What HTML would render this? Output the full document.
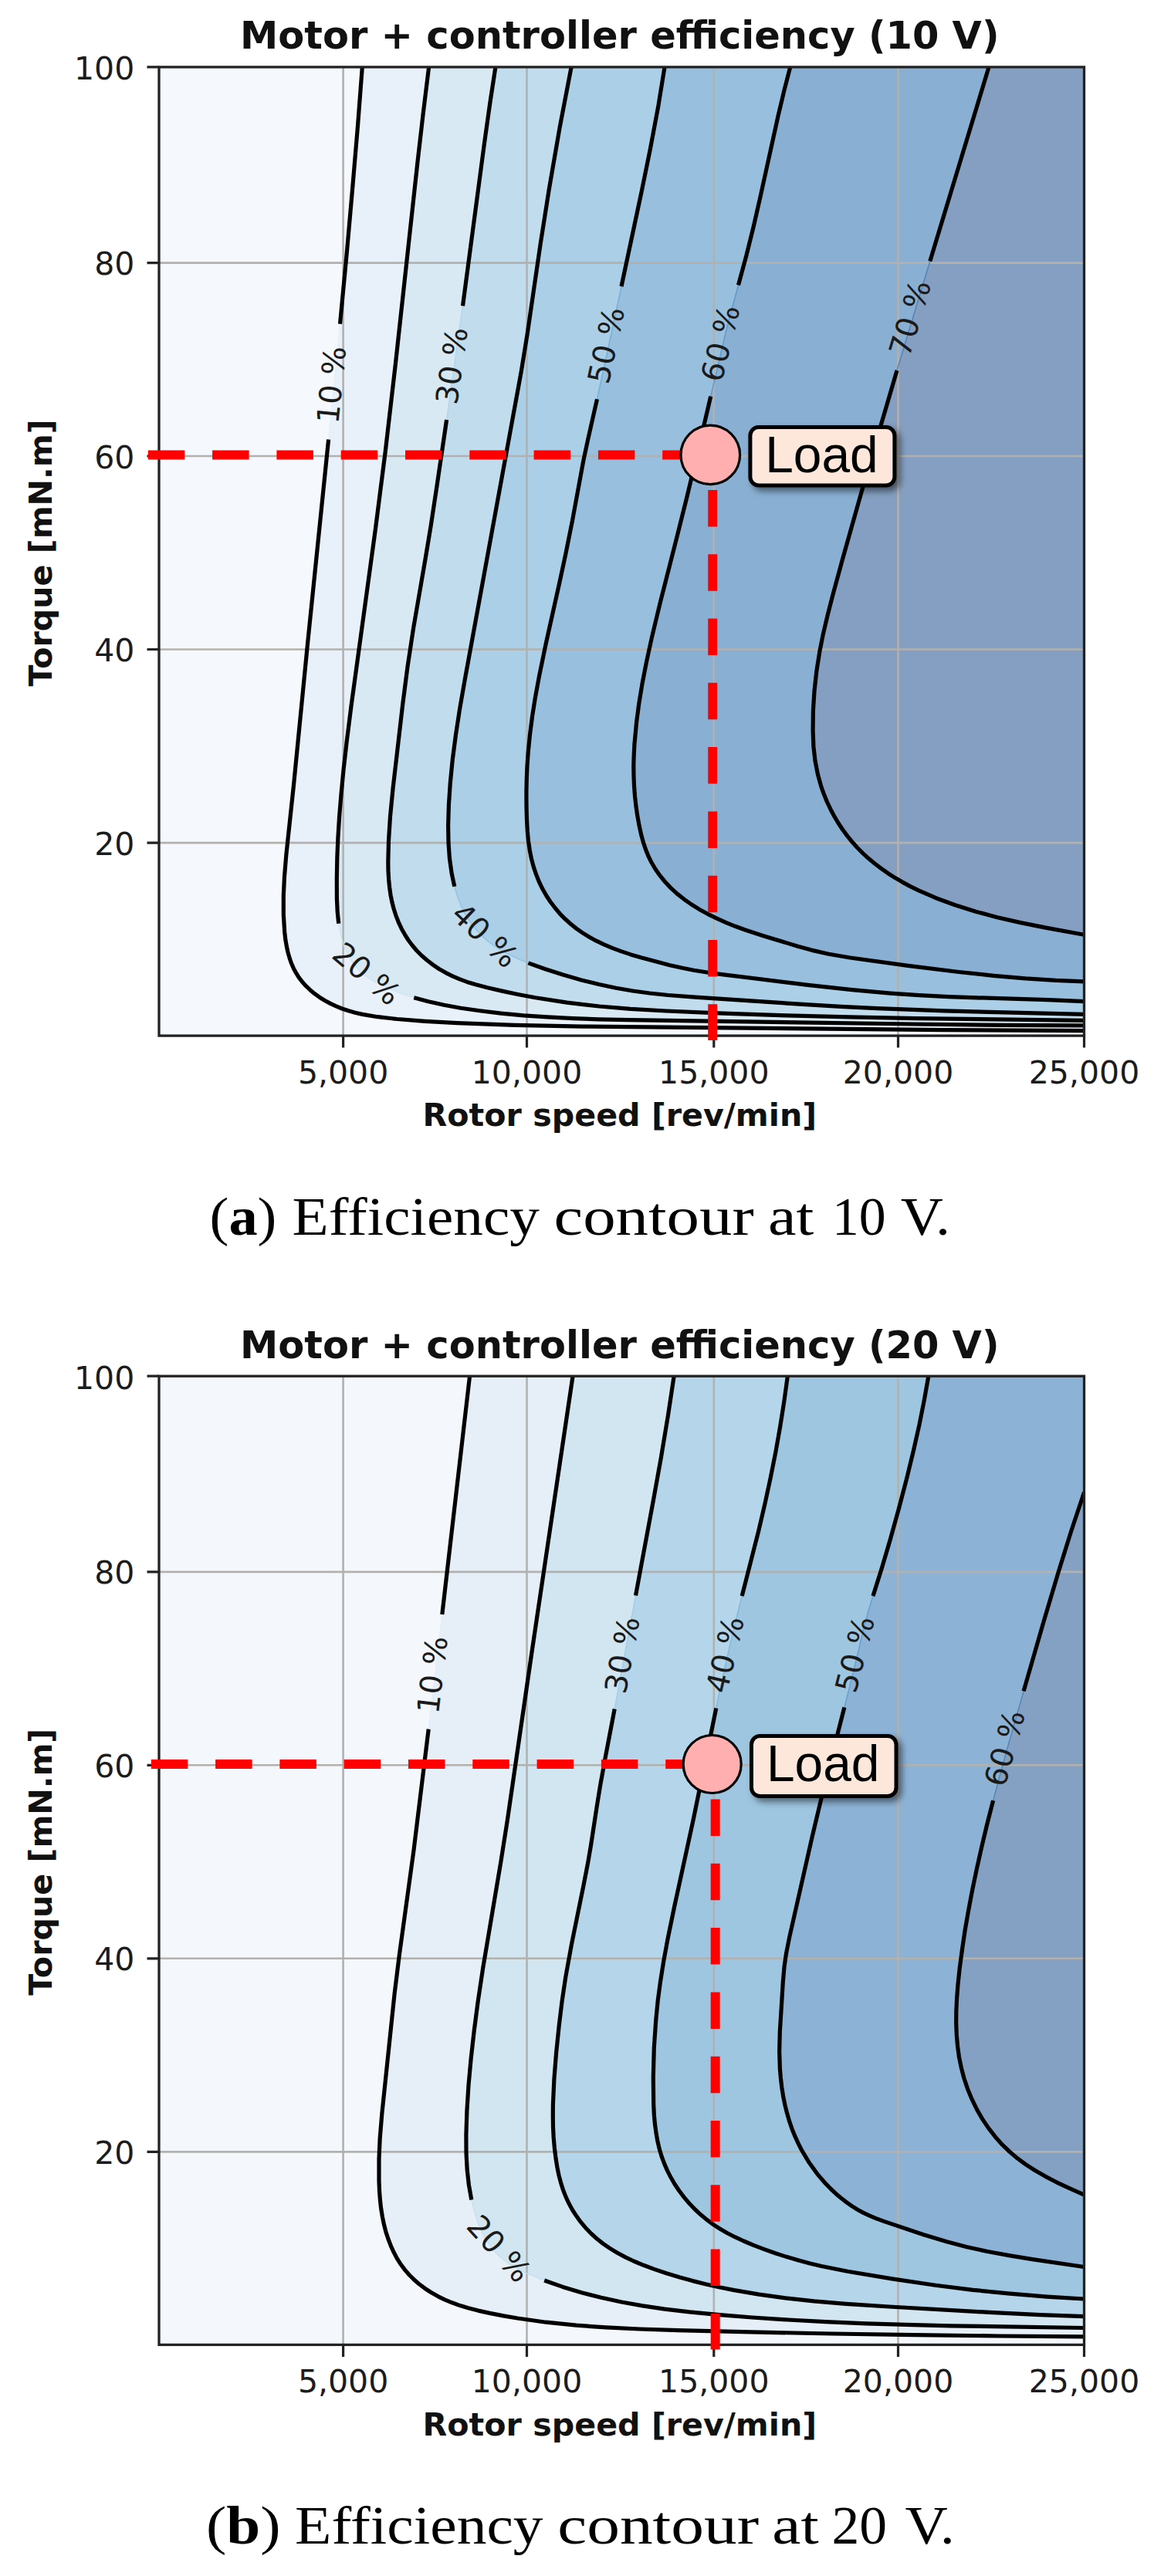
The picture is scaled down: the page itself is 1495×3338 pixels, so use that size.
<!DOCTYPE html>
<html lang="en"><head><meta charset="utf-8"><title>Motor + controller efficiency</title>
<style>html,body{margin:0;padding:0;background:#fff}svg{display:block}</style></head><body>
<svg width="1495" height="3338" viewBox="0 0 1495 3338">
<defs><filter id="sh" x="-20%" y="-30%" width="150%" height="180%"><feDropShadow dx="5" dy="5" stdDeviation="4.5" flood-color="#000" flood-opacity="0.5"/></filter></defs>
<rect width="1495" height="3338" fill="#fff"/>
<clipPath id="ca"><rect x="206.0" y="86.9" width="1198.5" height="1255.2"/></clipPath>
<g clip-path="url(#ca)">
<rect x="206.0" y="86.9" width="1198.5" height="1255.2" fill="#f5f9fd"/>
<path d="M469.3 87L463.6 160.8L457.3 237.6L450 319.5L441.7 407.3L427.7 548.8L397.3 846.5L380.8 1014.7L371.1 1105L368.5 1135.1L367.3 1158.8L367.2 1181.3L368.2 1202.4L370.2 1219.7L373.1 1234.3L375.1 1241.4L377.3 1247.6L382.4 1258.7L385.3 1263.7L388.9 1269L393.9 1275.1L400 1281.3L406.7 1287L413.9 1292.2L421.5 1296.9L430 1301.4L438.9 1305.4L448 1308.7L456.5 1311.3L465.9 1313.6L476.1 1315.7L487.1 1317.4L514.5 1320.5L552.2 1323.4L592.1 1325.7L637.2 1327.5L684.5 1328.9L737.8 1329.9L1218.6 1334.6L1404.5 1335.6L1409.5 1335.6L1409.5 81.9L469.3 81.9Z" fill="#e8f1f9"/>
<path d="M555.6 87L548.2 147L540.5 213.5L512.8 468.1L500.3 576.3L487.2 680L462 862.7L452.9 931L446.1 988.2L441.3 1037L438.4 1077.5L436.7 1116L436.3 1154.6L436.6 1170.4L437.2 1182.5L438.1 1192.4L439.4 1201.6L441.2 1210.6L443.4 1218.7L446.2 1226.8L449.3 1234L452.9 1241L456.7 1247L461.9 1253.7L467.8 1259.8L474.4 1265.1L482.2 1270.2L492.3 1275.6L505.4 1281.6L518.7 1286.8L532.3 1291.4L545.9 1295.5L559.7 1299L575.1 1302.3L591.2 1305.3L609.5 1308.2L629.4 1310.8L671.9 1315.3L701.7 1317.5L733.6 1319.3L767.7 1320.6L806.8 1321.5L1224.5 1327.6L1319.8 1328.5L1404.5 1328.9L1409.5 1328.9L1409.5 81.9L555.6 81.9Z" fill="#d8e9f3"/>
<path d="M641.9 87L629.4 171.3L598.1 406.4L585.4 496.8L569.9 603.4L555.8 695.7L536.2 809.9L528.9 857L521.8 911.8L508 1031.5L504.8 1066.8L503.1 1097.5L502.8 1123L503.3 1134.6L504 1144.8L505.2 1154.3L506.8 1163.7L508.8 1173L511.3 1181.5L514.2 1189.8L517.6 1197.9L521.5 1205.8L525.5 1212.9L531.6 1221.8L538.5 1230.2L546 1238L554.3 1245.1L563.6 1252.1L573.4 1258.3L583.7 1263.7L594.9 1268.7L607.1 1273.1L620.8 1277.1L636.6 1281.1L658.6 1286L680 1290.2L702.2 1294.2L724.4 1297.6L746.7 1300.7L788 1305.1L834.2 1308.4L892.8 1311.3L979.3 1314.6L1067.8 1317.2L1163.9 1319.2L1270.2 1320.9L1404.5 1322.4L1409.5 1322.4L1409.5 81.9L641.9 81.9Z" fill="#c1dded"/>
<path d="M740.1 87L725.2 164.8L711.3 245.3L700.1 316.4L683.2 432.6L675.6 479.3L601.2 885.9L593.4 932.7L587.7 972.5L583.8 1008.6L581.4 1042.8L580.6 1074.5L580.8 1088.1L581.5 1101.1L582.5 1113.4L584 1125L585.9 1136L588.3 1146.9L591.1 1157L594.3 1166.2L598 1175.2L602 1183.3L607.3 1192.2L613.3 1200.5L620 1208.3L627.4 1215.6L635.5 1222.2L644.7 1228.5L654.8 1234.5L665.8 1240.1L679.5 1246L695.4 1252L717 1259.3L738.1 1265.7L757.5 1271L777.1 1275.8L796.1 1279.8L815.3 1283.3L830.6 1285.6L847.4 1287.7L885.5 1291.2L1037 1301.2L1103 1305.1L1156.1 1307.6L1208.7 1309.5L1404.5 1314.3L1409.5 1314.3L1409.5 81.9L740.1 81.9Z" fill="#aacfe6"/>
<path d="M861 87L856.3 117.1L850.9 148.3L844.6 181.8L837.2 218.7L787.4 453.7L757.2 590.3L752.8 612.4L743.3 665.1L736.8 698.5L727.1 744.9L702.8 854.9L695.9 889.5L690.7 920.7L686 956.2L684.3 973.1L683.1 990.1L682.3 1007.1L681.9 1024.8L682 1042.5L682.4 1060.8L683.1 1074.2L684 1085.7L685.4 1096.5L687.1 1106.7L689.3 1116.1L691.9 1125.5L695.1 1134.6L698.8 1143.6L704 1154L709.9 1163.9L716.6 1173.4L724 1182.4L732.1 1190.8L740.7 1198.5L749.8 1205.5L759.9 1212.2L770.4 1218.1L781.3 1223.4L793.6 1228.6L806.7 1233.4L821.9 1238.3L839.5 1243.4L860.7 1249L879 1253.3L893.3 1256.2L907 1258.6L942.6 1263.5L1064.6 1278.4L1106.3 1282.9L1144.4 1286.4L1184.4 1289.4L1225.7 1291.5L1265.3 1293L1358.9 1295.7L1404.5 1297.6L1409.5 1297.6L1409.5 81.9L861.0 81.9Z" fill="#98c0de"/>
<path d="M1023.7 87L1016.2 115.9L1008.4 148.6L984.5 257.7L975 298.5L965.3 337.1L947.3 403L938.7 436.8L907.7 569.6L892.3 634.1L879.6 685.5L857.6 771.7L848.4 808.7L840.2 844.8L833.6 877.3L827.9 911L823.9 941.7L821.5 970.3L820.8 996.8L821.1 1010L821.8 1022.7L822.9 1035.4L824.4 1048L826.4 1061.2L828.8 1073.7L831.4 1084.5L834.3 1094.5L837.9 1104.4L842.1 1113.9L846.8 1122.5L852.5 1131.3L858.9 1139.6L866.3 1147.8L874.3 1155.5L883.2 1163L892.6 1169.9L902.8 1176.4L913.8 1182.8L926.2 1189L939.2 1194.9L953 1200.5L967.5 1205.8L983.2 1210.9L1035.1 1226.6L1055.9 1232.4L1078.5 1237.2L1106.8 1241.8L1202.1 1254.7L1242.7 1259.6L1278.9 1263.5L1312.4 1266.6L1344.3 1269L1375.2 1270.8L1404.5 1271.8L1409.5 1271.8L1409.5 81.9L1023.7 81.9Z" fill="#89b0d3"/>
<path d="M1281 87L1251.1 186.4L1179.2 422.9L1143.4 542.7L1123.2 611.9L1104.7 676.8L1086.5 742.8L1074 789.8L1067.4 817.1L1062.5 840.9L1058.7 864.1L1055.8 886.9L1053.9 911.3L1053.1 935.2L1053.3 957.2L1054.8 976.8L1056.4 988.5L1058.6 1000.2L1061.6 1011.7L1065 1022.7L1069.1 1033.5L1074 1044.5L1079.4 1055.2L1085.3 1065.3L1091.6 1075L1098.4 1084.2L1105.5 1092.7L1113.2 1101.1L1121.4 1109L1130.3 1116.8L1140 1124.3L1150.1 1131.4L1160.5 1138L1171.2 1144.2L1183 1150.4L1195.1 1156.2L1207.9 1161.7L1221.2 1167L1235.6 1172.2L1250.5 1177.1L1280.9 1185.8L1314.3 1193.9L1351.5 1201.5L1404.5 1211.2L1409.5 1211.2L1409.5 81.9L1281.0 81.9Z" fill="#849fc1"/>
<path d="M444.6 86.9V1342.1M682.5 86.9V1342.1M924.8 86.9V1342.1M1163.5 86.9V1342.1M206.0 340.6H1404.5M206.0 591.0H1404.5M206.0 841.5H1404.5M206.0 1092.1H1404.5" stroke="#b2b1ae" stroke-width="2.6" fill="none"/>
<g fill="none" stroke-width="1.6" stroke-opacity="0.75">
<path d="M440.5 419.8L425.6 569.5" stroke="#e3eef8"/>
<path d="M438.7 1196.7L440.3 1206.4L442.5 1215.3L445 1223.4L448.1 1231.4L451.9 1239.1L455.9 1245.8L460.6 1252.1L465.8 1257.9L471.1 1262.6L476.8 1266.8L483.4 1270.9L491.7 1275.3L502.1 1280.2L513.4 1284.8L524.8 1289L536.3 1292.7" stroke="#cce2f0"/>
<path d="M599.5 396.3L578.6 544" stroke="#aed2e7"/>
<path d="M588.8 1148.8L591.5 1158.2L594.5 1166.8L598 1175.2L601.7 1182.8L605.9 1190L610.6 1196.9L615.7 1203.5L620.9 1209.3L627 1215.1L633.5 1220.6L640.3 1225.6L648 1230.6L655.9 1235.1L664.6 1239.5L674.1 1243.8L684.4 1247.9" stroke="#8bbedd"/>
<path d="M805 371.1L787 455.5L773.5 517.3" stroke="#6ea8d2"/>
<path d="M956.5 369.5L947.3 403L940.6 429.2L920.7 513.7" stroke="#5690c2"/>
<path d="M1204.8 338.5L1162 480.1" stroke="#4978ab"/>
</g>
<g fill="none" stroke="#000" stroke-width="5.2" stroke-linecap="butt" stroke-linejoin="round">
<path d="M469.3 87L463.5 163.1L456.7 243.5L449.2 328.4L440.5 419.8M425.6 569.5L398.6 833.2L380.3 1019.1L370.8 1107.9L368.5 1135.9L367.3 1160.3L367.3 1185L368.7 1207.7L369.7 1216.7L371.2 1225.6L372.9 1233.6L375.1 1241.4L377.5 1248.3L380.4 1254.9L383.8 1261.2L387.2 1266.6L391.6 1272.3L396.4 1277.7L401.7 1282.7L407.3 1287.4L413.9 1292.2L420.8 1296.5L428 1300.4L435.5 1303.9L443.1 1307L451.5 1309.8L460.1 1312.3L469.5 1314.4L489.3 1317.7L514.5 1320.5L550.7 1323.3L592.1 1325.7L666.8 1328.4L754.9 1330.1L1223 1334.7L1404.5 1335.6"/>
<path d="M555.6 87L548.3 146.3L540.8 211.4L512.3 472.4L499.2 585.4L486.3 686.4L455.2 913.4L449.3 960L444.9 998.8L442 1029.3L439.6 1058.3L437.9 1085.3L436.8 1111.7L436.3 1138.9L436.4 1164.7L437.2 1181.8L438.7 1196.7M536.3 1292.7L554.9 1297.8L575.1 1302.3L596.8 1306.3L621.6 1309.8L649.2 1313.1L678.2 1315.8L708.8 1317.9L742.1 1319.6L775.5 1320.8L814.7 1321.6L1181.1 1327L1301.3 1328.4L1404.5 1328.9"/>
<path d="M641.9 87L634.8 133.5L627.5 185.5L599.5 396.3M578.6 544L566 629.7L558 682.3L551.1 724L535.6 813.9L528 863.8L521.8 911.8L509 1022.1L505.5 1058L503.5 1089.3L502.8 1116.8L503 1128.4L503.6 1139.4L504.6 1149.6L506 1159.7L507.9 1169L510.1 1177.5L513 1186.6L516.2 1194.8L520.2 1203.4L524.5 1211.1L529.2 1218.5L534.1 1225L539.8 1231.7L546 1238L553.2 1244.3L560.8 1250.1L568.7 1255.5L577.6 1260.6L586.2 1264.9L595.6 1268.9L605.1 1272.4L616.2 1275.8L631.3 1279.8L651.3 1284.4L672 1288.7L693.5 1292.7L734.5 1299.1L776.5 1304L816.5 1307.3L862.8 1310L937 1313.1L1018.8 1315.8L1099.2 1317.9L1186.4 1319.6L1404.5 1322.4"/>
<path d="M740.1 87L725.2 164.8L711.3 245.3L700.1 316.4L683.1 433.2L675.3 481.2L602.3 880.2L595.6 918.6L590.5 951.9L586.3 984.1L583.3 1014.4L581.4 1042.8L580.6 1070L581 1092L582.4 1112.1L585.1 1131.5L588.8 1148.8M684.4 1247.9L706.4 1255.8L730 1263.3L753.1 1269.9L775.8 1275.5L798 1280.2L819.7 1284L841.6 1287L865.4 1289.5L900.4 1292.2L1039.6 1301.4L1089.4 1304.3L1136.1 1306.7L1223.6 1309.9L1404.5 1314.3"/>
<path d="M861 87L852.9 136.9L842.5 192.5L831.1 248.5L805 371.1M773.5 517.3L761.4 570.7L755.7 597.5L741.6 674.1L732.9 717.6L724.7 755.6L707.1 834.6L698.7 875.2L693.6 902.7L689.6 927.9L686.5 952L684.2 975L683 991.9L682.3 1009L681.9 1026.6L682 1044.9L682.5 1062.6L683.3 1077.2L684.5 1089.9L686.3 1101.9L688.4 1112.6L691.2 1123.1L694.5 1132.9L698.3 1142.5L702.8 1151.8L707.6 1160.3L713 1168.5L719.3 1176.8L725.2 1183.8L732.1 1190.8L739.3 1197.3L746.9 1203.4L754.8 1208.9L763.5 1214.3L772.5 1219.2L782.4 1223.9L793 1228.4L804.4 1232.6L817.2 1236.9L831.3 1241.1L867.8 1250.7L883.8 1254.3L898.6 1257.2L914.2 1259.7L932.9 1262.3L1046.5 1276.3L1103.9 1282.6L1153.5 1287.1L1190.5 1289.7L1229.4 1291.7L1357.7 1295.7L1404.5 1297.6"/>
<path d="M1023.7 87L1016.1 116.4L1008.3 149.2L984.9 255.5L976.2 293.7L966.9 331.2L956.5 369.5M920.7 513.7L904 585.2L889.7 644.8L877 695.7L854.9 782.4L844.2 827L837.6 857.2L832.2 884.9L827.8 911.6L824.6 935.7L821.9 964.8L821.2 978.6L820.8 992.4L821 1005.6L821.5 1018.3L822.5 1031.5L823.9 1044.2L825.8 1057.3L828.2 1070.4L830.7 1081.8L833.5 1091.9L836.7 1101.3L840.2 1109.9L844.1 1117.8L848.8 1125.8L854.8 1134.4L861.4 1142.5L869 1150.6L877.2 1158.1L886.3 1165.3L895.8 1172L906.1 1178.4L917.3 1184.6L928.7 1190.2L940.2 1195.4L952.5 1200.3L965.4 1205L989 1212.7L1033.5 1226.2L1051.1 1231.1L1073.6 1236.3L1101.3 1241L1176.3 1251.4L1242.1 1259.5L1287.1 1264.3L1328.3 1267.9L1367.5 1270.4L1404.5 1271.8"/>
<path d="M1281 87L1204.8 338.5M1162 480.1L1123.9 609.7L1091.6 724.2L1079.2 769.8L1072.1 797.4L1066.3 822L1061.9 844.1L1057.8 870L1055 895.6L1053.4 921.4L1053.1 946.6L1053.9 967.2L1056 985.8L1059.4 1003.3L1064.1 1020.1L1067.6 1029.6L1071.4 1039L1076 1048.7L1080.8 1057.7L1086 1066.5L1091.6 1075L1097.6 1083.1L1104 1091L1110.7 1098.5L1117.8 1105.6L1125.1 1112.3L1133.2 1119L1141.5 1125.4L1150.5 1131.7L1159.7 1137.6L1169.2 1143.1L1179.3 1148.6L1190.1 1153.9L1212.6 1163.7L1237.3 1172.8L1264.1 1181.2L1292 1188.7L1322.3 1195.6L1356 1202.4L1404.5 1211.2"/>
</g>
</g>
<g font-family="'DejaVu Sans','Liberation Sans',sans-serif" font-size="39.5" fill="#1a1a1a" text-anchor="middle">
<text transform="translate(433.1 495.0) rotate(-84.3)" x="-4.0" y="10.5">10 %</text>
<text transform="translate(470.0 1261.7) rotate(40.5)" x="4.0" y="10.5">20 %</text>
<text transform="translate(589.1 470.5) rotate(-82.0)" x="-4.0" y="10.5">30 %</text>
<text transform="translate(623.2 1211.6) rotate(43.6)" x="4.0" y="10.5">40 %</text>
<text transform="translate(789.4 444.2) rotate(-77.8)" x="-4.0" y="10.5">50 %</text>
<text transform="translate(937.6 441.6) rotate(-76.1)" x="-4.0" y="10.5">60 %</text>
<text transform="translate(1183.3 409.3) rotate(-73.2)" x="-4.0" y="10.5">70 %</text>
</g>
<path d="M444.6 1342.1v15.5M682.5 1342.1v15.5M924.8 1342.1v15.5M1163.5 1342.1v15.5M1404.5 1342.1v15.5M206.0 86.9h-15.5M206.0 340.6h-15.5M206.0 591.0h-15.5M206.0 841.5h-15.5M206.0 1092.1h-15.5" stroke="#222" stroke-width="3.2" fill="none"/>
<rect x="206.0" y="86.9" width="1198.5" height="1255.2" fill="none" stroke="#222" stroke-width="3.3"/>
<g font-family="'DejaVu Sans','Liberation Sans',sans-serif" font-size="41.0" fill="#1c1c1c">
<text x="444.6" y="1404.0" text-anchor="middle">5,000</text>
<text x="682.5" y="1404.0" text-anchor="middle">10,000</text>
<text x="924.8" y="1404.0" text-anchor="middle">15,000</text>
<text x="1163.5" y="1404.0" text-anchor="middle">20,000</text>
<text x="1404.5" y="1404.0" text-anchor="middle">25,000</text>
<text x="174.3" y="103.4" text-anchor="end">100</text>
<text x="174.3" y="356.1" text-anchor="end">80</text>
<text x="174.3" y="606.5" text-anchor="end">60</text>
<text x="174.3" y="857.0" text-anchor="end">40</text>
<text x="174.3" y="1107.6" text-anchor="end">20</text>
</g>
<g font-family="'DejaVu Sans','Liberation Sans',sans-serif" font-weight="bold" fill="#111" text-anchor="middle">
<text x="802.8" y="63.4" font-size="49.5">Motor + controller efficiency (10 V)</text>
<text x="802.8" y="1459.3" font-size="41.2">Rotor speed [rev/min]</text>
<text transform="translate(67.4 716.5) rotate(-90)" font-size="41.2">Torque [mN.m]</text>
</g>
<path d="M191.8 589.4H920.3" stroke="#f00" stroke-width="12" stroke-dasharray="47.5 35.8" fill="none"/>
<path d="M923.2 589.4V1348.1" stroke="#f00" stroke-width="12" stroke-dasharray="0 45.5 47.5 35.8 47.5 35.8 47.5 35.8 47.5 35.8 47.5 35.8 47.5 35.8 47.5 35.8 47.5 35.8 60 0" fill="none"/>
<rect x="971.9" y="553.5" width="187.0" height="75.5" rx="11" fill="#fde7da" stroke="#000" stroke-width="5" filter="url(#sh)"/>
<text x="1064.4" y="611.5" font-family="'Liberation Sans',sans-serif" font-size="66" text-anchor="middle" fill="#000" textLength="146.5" lengthAdjust="spacingAndGlyphs">Load</text>
<circle cx="920.3" cy="589.4" r="38.3" fill="#ffafaf" stroke="#000" stroke-width="3.2"/>
<g font-family="'Liberation Serif',serif" font-size="70" fill="#000">
<text transform="translate(271.6 1600.0) scale(1.063 1)">(<tspan font-weight="bold">a</tspan>)</text>
<text transform="translate(378.5 1600.0) scale(1.104 1)">Efficiency</text>
<text transform="translate(717.5 1600.0) scale(1.212 1)">contour</text>
<text transform="translate(994.9 1600.0) scale(1.175 1)">at</text>
<text transform="translate(1077.9 1600.0) scale(0.997 1)">10</text>
<text transform="translate(1166.7 1600.0) scale(1.089 1)">V.</text>
</g>
<clipPath id="cb"><rect x="206.0" y="1783.2" width="1198.5" height="1255.2"/></clipPath>
<g clip-path="url(#cb)">
<rect x="206.0" y="1783.2" width="1198.5" height="1255.2" fill="#f4f8fd"/>
<path d="M608.5 1783.5L576.1 2064.5L543.9 2333.8L533.4 2417.3L518 2528.7L512.1 2574.6L507.4 2616.5L496.8 2718.7L493.2 2757L491.3 2787.9L490.8 2815.6L491.6 2840.7L493.7 2862.2L495.2 2871.9L497.2 2881.4L499.6 2890.8L502.2 2899.4L505.3 2907.8L508.9 2916L512.9 2923.9L517.1 2930.9L522.9 2939.2L529.4 2947L536.6 2954.2L544.9 2961.2L553.7 2967.5L563.7 2973.6L574.1 2978.9L584.9 2983.6L596 2987.6L608.6 2991.4L622.1 2994.8L638.4 2998.3L657.5 3001.9L677.3 3005.1L697.2 3007.9L718.4 3010.4L755.5 3013.9L795.4 3016.5L840.1 3018.5L901.5 3020.2L1023.6 3023L1147.8 3025.2L1274.8 3026.8L1404.5 3027.9L1409.5 3027.9L1409.5 1778.2L608.5 1778.2Z" fill="#e6eff8"/>
<path d="M742 1783.5L688.7 2142.8L656.6 2363.2L648.1 2416.7L629.2 2528.5L621.9 2574.9L615.4 2621.4L610.5 2664.2L606.7 2706.5L604.4 2747.1L603.8 2779.4L604.1 2793.6L604.8 2807.1L606 2820.6L607.7 2833.3L609.7 2845.4L612.4 2857.4L615.5 2869.3L619 2879.8L622.6 2888.8L626.8 2897.5L631.8 2905.7L637.4 2913.4L643.8 2920.5L650.3 2926.5L657.9 2932.3L666.6 2937.8L676.3 2942.9L686.9 2947.8L703.4 2954.3L721.8 2960.9L740.3 2966.9L759.5 2972.4L778.9 2977.3L799 2981.7L819.2 2985.6L840.7 2989.2L861.1 2992.1L883.5 2994.8L935.4 2999.9L997.7 3004.6L1064 3008.4L1128.3 3011L1199.1 3013.1L1275.1 3014.6L1404.5 3016.5L1409.5 3016.5L1409.5 1778.2L742.0 1778.2Z" fill="#d1e6f1"/>
<path d="M873.1 1783.5L864.1 1842.7L852.4 1911L806.6 2159.2L781 2295L774.4 2333.3L766.5 2385.3L763 2406.5L757.2 2437.1L743.3 2505.1L737.3 2535.6L732 2566.9L727.4 2598.8L722.4 2642.1L718.3 2688.7L716.5 2722.2L716.3 2737.7L716.4 2752.1L717 2766.4L718.1 2780.7L719.7 2794.3L721.6 2806.7L724 2818.5L726.7 2828.9L729.8 2838.6L733.6 2848L738.6 2858.3L744.4 2868.1L750.9 2877.5L758.5 2886.7L766.4 2894.9L774.8 2902.3L784.2 2909.5L794.6 2916.3L805.4 2922.4L817.8 2928.5L831 2934.2L845.1 2939.6L862.3 2945.4L881.3 2951.2L900.3 2956.4L919.5 2961L954.6 2968.2L991.7 2974.3L1031.9 2979.5L1076.6 2983.8L1138.1 2988.2L1266.5 2995.6L1341.1 2999.3L1404.5 3001.7L1409.5 3001.7L1409.5 1778.2L873.1 1778.2Z" fill="#b5d6ea"/>
<path d="M1020.3 1783.5L1015.7 1817.2L1010.2 1851.8L1003.9 1886.7L996.6 1922.6L990 1952.9L982.8 1983.7L953.1 2100.4L939.2 2160L926.8 2218.2L896.7 2365.1L869.8 2489L863.2 2522.2L858 2551.7L852.8 2587.8L849.4 2621.9L847.1 2657.8L846.3 2695.5L846.7 2726.9L847.3 2739.6L848.4 2751.6L849.8 2762.9L851.7 2773.6L854 2783.6L856.7 2793L860.6 2803.6L865.4 2814.5L871 2825.1L877.4 2835.2L884.4 2844.9L892.1 2854.2L900.3 2862.9L909.2 2871L918.1 2878.2L927 2884.5L936.7 2890.5L947.2 2896.3L959 2902L972.6 2907.9L987.4 2913.7L1002.9 2919.2L1020 2924.7L1037.3 2929.8L1054.1 2934.1L1071.1 2938L1091.4 2942L1117.2 2946.6L1178.7 2956.5L1236 2964.4L1292.9 2970.7L1348.9 2975.6L1404.5 2979L1409.5 2979.0L1409.5 1778.2L1020.3 1778.2Z" fill="#9ec6e1"/>
<path d="M1202.8 1783.5L1197.7 1812.5L1191.8 1842.3L1184.9 1873.3L1177.2 1905.6L1166.5 1947.5L1154.1 1992.4L1142.7 2031L1126.1 2084.2L1119.8 2106.8L1102.5 2178.4L1073.4 2292L1061.4 2340.5L1045 2411.2L1021 2518.2L1017.4 2538L1015.3 2556.1L1011.4 2612.8L1010 2639.6L1009.7 2660.7L1010.3 2679.4L1011.9 2697.6L1014.4 2714.8L1016.8 2727.1L1019.7 2738.8L1023.1 2750.3L1027 2761.1L1031.4 2771.8L1036.4 2782.1L1041.9 2792.2L1048 2802L1054.6 2811.5L1061.7 2820.6L1069.3 2829.2L1077.4 2837.5L1085.9 2845.3L1094.6 2852.2L1103.6 2858.6L1112.6 2864.1L1120.2 2868.2L1128.4 2872L1137.8 2875.7L1149.1 2879.8L1206.2 2898.7L1227.4 2905.1L1246.4 2910.2L1274 2916.5L1305.2 2922.4L1336 2927.3L1404.5 2937.5L1409.5 2937.5L1409.5 1778.2L1202.8 1778.2Z" fill="#8cb3d6"/>
<path d="M1404.5 1933.7L1391.9 1971.3L1379.1 2011.3L1365.7 2055.3L1350.7 2105.8L1301.5 2277.7L1287.8 2328.7L1276.3 2373.9L1267.9 2409.9L1260.7 2443.9L1254.4 2476.9L1249 2508.7L1244.5 2540.7L1241.1 2570.3L1239.3 2594.5L1238.7 2616.7L1239.3 2637.5L1241.2 2657.1L1244.4 2675.5L1248.9 2693L1255 2710.5L1262.5 2727.4L1271.3 2743.6L1281.3 2758.7L1291.8 2771.8L1303 2783.7L1315 2794.3L1328.7 2804.6L1344.1 2814.4L1361.2 2824L1380.7 2833.5L1404.5 2844Z" fill="#84a1c3"/>
<path d="M444.6 1783.2V3038.4M682.5 1783.2V3038.4M924.8 1783.2V3038.4M1163.5 1783.2V3038.4M206.0 2036.9H1404.5M206.0 2287.3H1404.5M206.0 2537.8H1404.5M206.0 2788.4H1404.5" stroke="#b2b1ae" stroke-width="2.6" fill="none"/>
<g fill="none" stroke-width="1.6" stroke-opacity="0.75">
<path d="M572.8 2092L555.2 2240.6" stroke="#e0ecf7"/>
<path d="M610.8 2850.5L613.5 2861.8L616.5 2872.4L619.7 2881.6L623.1 2890L626.8 2897.5L631 2904.7L635.8 2911.4L640.7 2917.3L646.5 2923.1L652.3 2928.1L659 2933L666 2937.4L673.9 2941.7L682.7 2946L705.2 2955" stroke="#c4deee"/>
<path d="M823.5 2067.5L796.2 2214.5" stroke="#9ecae3"/>
<path d="M961.2 2068.2L952.4 2103.1L945 2134.4L937 2170.1L927.8 2213.4" stroke="#79b2d6"/>
<path d="M1131 2068.1L1124.7 2088.8L1120 2105.9L1106.1 2163.9L1093.9 2212.4" stroke="#5c96c7"/>
<path d="M1326.1 2191.4L1302.7 2273.5L1286.6 2333.2" stroke="#4a7bae"/>
</g>
<g fill="none" stroke="#000" stroke-width="5.2" stroke-linecap="butt" stroke-linejoin="round">
<path d="M608.5 1783.5L572.8 2092M555.2 2240.6L536 2397.5L517.3 2533.5L511.1 2583.5L494.8 2739.2L492.2 2770.7L491 2797.5L491 2826L491.5 2838.6L492.4 2850.4L493.6 2861.5L495.4 2872.5L497.5 2882.7L499.9 2892.1L502.9 2901.3L506.4 2910.3L510.4 2919.1L514.6 2926.9L519.3 2934.3L524.6 2941.4L529.9 2947.5L536.1 2953.7L542.7 2959.5L550.3 2965.2L558.4 2970.5L567.3 2975.6L576 2979.8L585.6 2983.8L596 2987.6L606.6 2990.8L619.4 2994.1L634.3 2997.4L652.1 3000.9L670.5 3004L707.4 3009.2L746.6 3013.2L785.1 3015.9L828.4 3018L878.1 3019.6L972.6 3021.9L1077.4 3024L1184.4 3025.7L1293.4 3027L1404.5 3027.9"/>
<path d="M742 1783.5L688.5 2144L657.3 2358.8L648.8 2412.8L625.7 2550.1L619.3 2592.7L614.2 2631.6L610.1 2668L607 2702L604.9 2735.5L603.9 2765.8L604 2789.7L605.2 2811.6L607.4 2831.4L610.8 2850.5M705.2 2955L729.1 2963.4L753.3 2970.7L778.9 2977.3L805.3 2983L832.5 2987.9L861.1 2992.1L893.1 2995.9L929.6 2999.4L974.6 3003L1020.9 3006L1069.7 3008.6L1121.9 3010.8L1174 3012.4L1231.9 3013.8L1404.5 3016.5"/>
<path d="M873.1 1783.5L865.5 1833.8L856.3 1889.3L846.2 1945.2L823.5 2067.5M796.2 2214.5L783.9 2279.1L777.6 2313.8L773.2 2340.9L765.7 2390L761.7 2413.6L756.1 2442.4L740.5 2519.2L732.8 2561.6L728.2 2592.3L724.3 2624.3L720.6 2660L717.9 2694.1L716.4 2727L716.3 2741.9L716.5 2756.2L717.2 2769.9L718.4 2783.6L720 2796.7L721.9 2808.5L724.1 2819.1L726.7 2828.9L729.6 2838L733.1 2846.9L736.9 2855.1L741.5 2863.5L746.4 2871.1L752 2878.9L758.5 2886.7L765.5 2894L773 2900.8L781.3 2907.4L790.1 2913.4L799.7 2919.3L810.2 2924.9L821 2930L833.8 2935.3L847.4 2940.4L863.4 2945.8L880.7 2951L897.4 2955.6L914.9 2959.9L932.9 2964L951.1 2967.6L983.4 2973.1L1017.7 2977.8L1054.5 2981.8L1095.7 2985.3L1151.9 2989L1282 2996.4L1347.7 2999.6L1404.5 3001.7"/>
<path d="M1020.3 1783.5L1015.9 1815.5L1010.7 1848.5L1004.8 1881.9L998.1 1915.6L990.9 1948.7L982.9 1983.2L961.2 2068.2M927.8 2213.4L898 2358.7L873.5 2471.4L864.9 2513.1L859.7 2541.5L855.5 2567.9L852.2 2592.7L849.8 2617L847.3 2653.4L846.3 2691.7L846.7 2726.9L847.4 2741.2L848.6 2753.7L850.1 2764.5L852 2775.2L854.4 2785.2L857.2 2794.5L860.6 2803.6L864.5 2812.6L868.9 2821.3L874.1 2830.2L879.8 2838.8L886.1 2847.1L892.8 2855L899.9 2862.5L907.5 2869.6L915.5 2876.2L923.8 2882.4L932.5 2888L941.9 2893.5L952.1 2898.7L963.5 2904L976.2 2909.4L990 2914.6L1004.4 2919.7L1019.5 2924.6L1034.7 2929L1049.4 2933L1064.2 2936.5L1097.9 2943.2L1155.5 2952.9L1211.7 2961.2L1260.4 2967.3L1308.6 2972.2L1356.5 2976.1L1404.5 2979"/>
<path d="M1202.8 1783.5L1197.3 1814.4L1190.9 1846.5L1183.4 1879.9L1174.9 1914.9L1164.8 1953.5L1153.5 1994.2L1142.8 2030.6L1131 2068.1M1093.9 2212.4L1069.2 2308.7L1052.1 2380.3L1022.6 2510.7L1018.6 2530.9L1016.1 2548L1014.3 2568.6L1010.3 2632.9L1009.7 2658.3L1010.4 2680.8L1011.4 2692.8L1012.8 2704.8L1014.6 2716.2L1016.9 2727.6L1019.6 2738.3L1022.7 2748.9L1026.1 2758.9L1030.1 2768.7L1034.1 2777.4L1038.2 2785.5L1047.5 2801.2L1058.1 2816.1L1063.9 2823.1L1070 2829.9L1076.4 2836.5L1083 2842.7L1089.6 2848.3L1096.5 2853.6L1103.6 2858.6L1110.9 2863.2L1118 2867.1L1125.4 2870.6L1134.2 2874.4L1145 2878.4L1196.6 2895.7L1226.5 2904.8L1252.9 2911.8L1279.2 2917.5L1308.5 2922.9L1337.5 2927.6L1404.5 2937.5"/>
<path d="M1404.5 1933.7L1387.8 1983.8L1370.6 2038.9L1352.5 2099.7L1326.1 2191.4M1286.6 2333.2L1278.6 2364.5L1271.6 2393.8L1265.3 2422L1259.7 2448.9L1254.7 2475.2L1250.2 2501L1246.5 2526L1243.2 2550.7L1241 2571.3L1239.6 2589.5L1238.8 2606.3L1238.7 2622.1L1239.3 2637.2L1240.6 2651.8L1242.5 2665.7L1245.2 2678.8L1248.9 2693L1253.5 2706.7L1259.2 2720.4L1265.5 2733.4L1272.7 2745.9L1280.6 2757.6L1289.2 2768.7L1298.5 2779.2L1307.7 2788L1317.6 2796.4L1328.7 2804.6L1340.9 2812.5L1354.1 2820.1L1368.8 2827.8L1385 2835.4L1404.5 2844"/>
</g>
</g>
<g font-family="'DejaVu Sans','Liberation Sans',sans-serif" font-size="39.5" fill="#1a1a1a" text-anchor="middle">
<text transform="translate(564.0 2166.6) rotate(-83.2)" x="-4.0" y="10.5">10 %</text>
<text transform="translate(641.6 2918.2) rotate(47.9)" x="0.0" y="7.2">20 %</text>
<text transform="translate(810.0 2141.0) rotate(-79.5)" x="-4.0" y="10.5">30 %</text>
<text transform="translate(943.5 2140.8) rotate(-77.0)" x="-4.0" y="10.5">40 %</text>
<text transform="translate(1111.7 2140.5) rotate(-75.6)" x="-4.0" y="10.5">50 %</text>
<text transform="translate(1305.9 2262.2) rotate(-74.4)" x="-4.0" y="10.5">60 %</text>
</g>
<path d="M444.6 3038.4v15.5M682.5 3038.4v15.5M924.8 3038.4v15.5M1163.5 3038.4v15.5M1404.5 3038.4v15.5M206.0 1783.2h-15.5M206.0 2036.9h-15.5M206.0 2287.3h-15.5M206.0 2537.8h-15.5M206.0 2788.4h-15.5" stroke="#222" stroke-width="3.2" fill="none"/>
<rect x="206.0" y="1783.2" width="1198.5" height="1255.2" fill="none" stroke="#222" stroke-width="3.3"/>
<g font-family="'DejaVu Sans','Liberation Sans',sans-serif" font-size="41.0" fill="#1c1c1c">
<text x="444.6" y="3100.3" text-anchor="middle">5,000</text>
<text x="682.5" y="3100.3" text-anchor="middle">10,000</text>
<text x="924.8" y="3100.3" text-anchor="middle">15,000</text>
<text x="1163.5" y="3100.3" text-anchor="middle">20,000</text>
<text x="1404.5" y="3100.3" text-anchor="middle">25,000</text>
<text x="174.3" y="1799.7" text-anchor="end">100</text>
<text x="174.3" y="2052.4" text-anchor="end">80</text>
<text x="174.3" y="2302.8" text-anchor="end">60</text>
<text x="174.3" y="2553.3" text-anchor="end">40</text>
<text x="174.3" y="2803.9" text-anchor="end">20</text>
</g>
<g font-family="'DejaVu Sans','Liberation Sans',sans-serif" font-weight="bold" fill="#111" text-anchor="middle">
<text x="802.8" y="1759.7" font-size="49.5">Motor + controller efficiency (20 V)</text>
<text x="802.8" y="3155.6" font-size="41.2">Rotor speed [rev/min]</text>
<text transform="translate(67.4 2412.8) rotate(-90)" font-size="41.2">Torque [mN.m]</text>
</g>
<path d="M195.8 2286.0H922.7" stroke="#f00" stroke-width="12" stroke-dasharray="47.5 35.8" fill="none"/>
<path d="M926.7 2286.0V3044.4" stroke="#f00" stroke-width="12" stroke-dasharray="0 45.5 47.5 35.8 47.5 35.8 47.5 35.8 47.5 35.8 47.5 35.8 47.5 35.8 47.5 35.8 47.5 35.8 60 0" fill="none"/>
<rect x="973.5" y="2249.5" width="187.5" height="78.0" rx="11" fill="#fde7da" stroke="#000" stroke-width="5" filter="url(#sh)"/>
<text x="1066.2" y="2307.5" font-family="'Liberation Sans',sans-serif" font-size="66" text-anchor="middle" fill="#000" textLength="146.5" lengthAdjust="spacingAndGlyphs">Load</text>
<circle cx="922.7" cy="2286.0" r="37.5" fill="#ffafaf" stroke="#000" stroke-width="3.2"/>
<g font-family="'Liberation Serif',serif" font-size="70" fill="#000">
<text transform="translate(266.9 3296.3) scale(1.129 1)">(<tspan font-weight="bold">b</tspan>)</text>
<text transform="translate(382.1 3296.3) scale(1.108 1)">Efficiency</text>
<text transform="translate(722.3 3296.3) scale(1.220 1)">contour</text>
<text transform="translate(1000.3 3296.3) scale(1.196 1)">at</text>
<text transform="translate(1077.5 3296.3) scale(1.023 1)">20</text>
<text transform="translate(1172.4 3296.3) scale(1.094 1)">V.</text>
</g>
</svg></body></html>
